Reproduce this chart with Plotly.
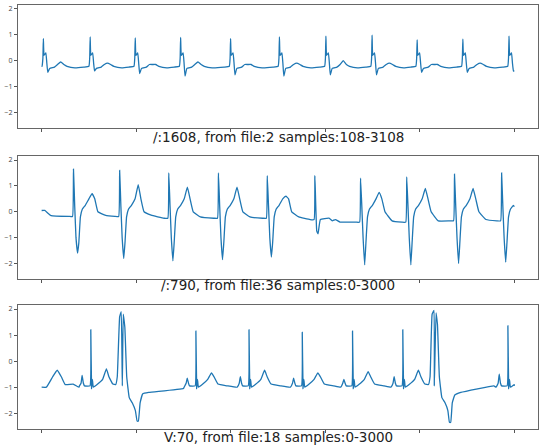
import plotly.graph_objects as go
from plotly.subplots import make_subplots

# positions are sample indices
# --- record 1: /:1608, file 2 ---
r1_pos = [11, 308, 594, 882, 1199, 1509, 1804, 2097, 2383, 2673, 2966]
r1_val = [0.85, 0.92, 0.88, 0.9, 0.85, 0.92, 0.95, 0.98, 0.8, 0.83, 0.95]
s1_val = [-0.45, -0.4, -0.5, -0.6, -0.55, -0.6, -0.55, -0.55, -0.45, -0.45, -0.4]
t1_val = [-0.05, -0.1, -0.15, -0.05, -0.15, -0.1, 0.0, -0.1, -0.15, -0.1, -0.2]

# --- record 2: /:790, file 36 ---
r2_pos = [202, 495, 807, 1122, 1432, 1734, 2024, 2317, 2620, 2919]
r2_val = [1.65, 1.6, 1.5, 1.5, 1.4, 1.4, 1.3, 1.35, 1.45, 1.5]
s2_val = [-1.6, -1.8, -1.9, -1.85, -1.75, -0.85, -2.05, -2.05, -2.0, -1.95]
t2_val = [0.7, 1.05, 0.95, 0.95, 0.6, -0.25, 0.75, 0.9, 0.9, 0.9]
b2_val = [-0.18, -0.18, -0.25, -0.25, -0.25, -0.3, -0.4, -0.4, -0.35, -0.35]

# --- record 3: V:70, file 18 ---
r3_pos = [312, 979, 1316, 1654, 1973, 2292, 2959]
r3_r = [1.2, 1.15, 1.2, 1.1, 1.15, 1.2, 1.35]
r3_p = [-0.55, -0.65, -0.6, -0.65, -0.7, -0.6, -0.5]
r3_t = [-0.3, -0.45, -0.35, -0.45, -0.4, -0.35, None]
pvc3_x = [470, 480, 495, 505, 518, 528, 540, 556, 575, 595, 606, 614, 625, 642, 680, 900,
          2455, 2465, 2478, 2490, 2503, 2512, 2524, 2540, 2560, 2578, 2588, 2596, 2606, 2622, 2660, 2870]
pvc3_y = [-0.9, -0.6, 1.7, 1.9, 1.8, 1.3, -0.6, -1.4, -1.6, -1.9, -2.3, -2.3, -1.6, -1.25, -1.2, -1.05,
          -0.9, -0.6, 1.8, 1.95, 1.85, 1.4, -0.6, -1.4, -1.6, -1.9, -2.35, -2.35, -1.6, -1.3, -1.2, -0.95]
lead3_x = [0, 30, 70, 99, 125, 150, 200, 240, 3000]
lead3_y = [-1.0, -1.0, -0.6, -0.35, -0.6, -0.9, -0.88, -0.95, -0.95]


def sort_pts(pts):
    pts = sorted(q for q in pts if 0 <= q[0] <= 3000)
    return [q[0] for q in pts], [q[1] for q in pts]


def rec1():
    pts = [(0, -0.2)]
    for p, r, s, t in zip(r1_pos, r1_val, s1_val, t1_val):
        seg = [(-40, -0.25), (-8, -0.22), (-3, 0.1), (0, r), (4, 0.2), (10, 0.25), (16, 0.3),
               (22, -0.1), (28, s), (40, -0.3), (70, -0.25), (90, -0.15), (110, t), (130, -0.15),
               (150, -0.22), (200, -0.28)]
        pts += [(p + o, v) for o, v in seg]
    pts.append((3000, -0.4))
    return sort_pts(pts)


def rec2():
    pts = [(0, 0.05), (20, 0.05), (60, -0.15)]
    for p, r, s, t, b in zip(r2_pos, r2_val, s2_val, t2_val, b2_val):
        if s > -1:  # odd beat around sample 1734
            seg = [(-30, b), (-5, b), (0, r), (12, -0.75), (20, -0.85), (35, -0.3),
                   (90, -0.25), (110, -0.35), (130, -0.3), (160, -0.4), (200, -0.4)]
        else:
            seg = [(-30, b), (-6, b), (0, r), (8, 0.2), (16, -1.0), (26, s), (34, -1.2),
                   (44, -0.2), (56, 0.1), (75, 0.25), (98, 0.5), (118, t), (135, 0.5),
                   (155, 0.0), (200, b + 0.05)]
        pts += [(p + o, v) for o, v in seg]
    pts.append((3000, 0.2))
    return sort_pts(pts)


def rec3():
    pts = list(zip(lead3_x, lead3_y)) + list(zip(pvc3_x, pvc3_y))
    for p, r, pv, t in zip(r3_pos, r3_r, r3_p, r3_t):
        seg = [(-75, -1.0), (-62, -0.85), (-55, pv), (-47, -0.85), (-40, -0.95), (-5, -0.95), (0, r),
               (5, -1.05), (10, -0.7), (16, -1.0), (40, -0.9)]
        if t is not None:
            seg += [(75, -0.7), (99, t), (115, -0.6), (140, -0.88), (200, -0.95)]
        pts += [(p + o, v) for o, v in seg]
    return sort_pts(pts)


titles = ["/:1608, from file:2 samples:108-3108",
          "/:790, from file:36 samples:0-3000",
          "V:70, from file:18 samples:0-3000"]

fig = make_subplots(rows=3, cols=1)
for i, (x, y) in enumerate([rec1(), rec2(), rec3()]):
    fig.add_trace(go.Scatter(x=x, y=y, mode="lines", line=dict(color="#1f77b4", width=1.3, shape="spline", smoothing=0.3),
                             showlegend=False), row=i + 1, col=1)

doms = [(0.722, 1.0), (0.38, 0.658), (0.041, 0.321)]
title_y = [0.701, 0.367, 0.023]
for i in range(3):
    n = "" if i == 0 else str(i + 1)
    fig.layout["xaxis" + n].update(domain=[0, 1], range=[-150, 3150], tickvals=[0, 600, 1200, 1800, 2400, 3000],
                                   showticklabels=False, ticks="outside", ticklen=3, tickcolor="#555",
                                   showline=True, linecolor="#666", mirror=True, showgrid=False, zeroline=False)
    fig.layout["yaxis" + n].update(domain=list(doms[i]), range=[-2.6, 2.15], tickvals=[-2, -1, 0, 1, 2],
                                   ticks="outside", ticklen=3, tickcolor="#555", tickfont=dict(size=7, color="#444"),
                                   showline=True, linecolor="#666", mirror=True, showgrid=False, zeroline=False)
    fig.add_annotation(text=titles[i], x=0.5, y=title_y[i], xref="paper", yref="paper", showarrow=False,
                       font=dict(size=13.5, color="#222", family="DejaVu Sans"), yanchor="middle")

fig.update_layout(width=550, height=447, margin=dict(l=18, r=12, t=5, b=0),
                  plot_bgcolor="white", paper_bgcolor="white")
fig.write_html("out.html", post_script="document.body.style.margin='0';",
               config={"displayModeBar": False})
